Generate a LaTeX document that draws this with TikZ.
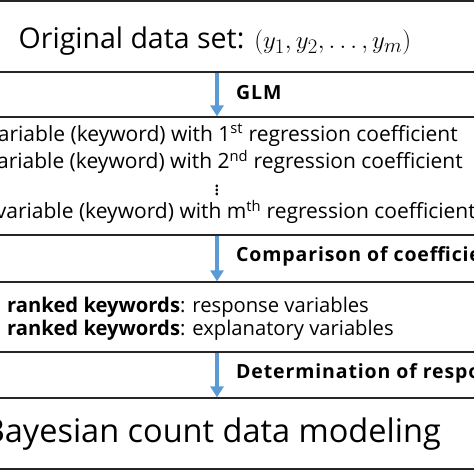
\documentclass[tikz,border=0pt]{standalone}
\usepackage{fontspec}
\setmainfont{Open Sans}
\usetikzlibrary{arrows.meta}

\definecolor{flowblue}{HTML}{5B9BD5}
\definecolor{frameline}{HTML}{262626}

\begin{document}
\begin{tikzpicture}[x=1pt, y=1pt,
  box/.style={draw=frameline, line width=1.3pt, minimum width=600pt, inner sep=0pt},
  flow/.style={flowblue, line width=4pt, -{Triangle[width=13pt, length=11pt]}},
  steplabel/.style={anchor=west, inner sep=0pt,
    font=\bfseries\fontsize{19.5}{23}\selectfont\addfontfeature{LetterSpace=4.5}},
  textline/.style={inner sep=0pt, font=\fontsize{21}{25}\selectfont},
  rankline/.style={inner sep=0pt, anchor=west, font=\fontsize{20.2}{24}\selectfont}]

\useasboundingbox (0,0) rectangle (474,-474);
\clip (0,0) rectangle (474,-474);

% the four stages
\node[box, minimum height=71pt] (data) at (217,-36.5) {};
\node[box, minimum height=118pt] (coefs) at (217,-176) {};
\node[box, minimum height=70pt] (ranks) at (217,-317) {};
\node[box, minimum height=71pt] (model) at (217,-433.5) {};
\draw[frameline, line width=3pt] (data.north west) -- (data.north east);

% arrows between stages
\draw[flow] (data.south) -- (coefs.north);
\draw[flow] (coefs.south) -- (ranks.north);
\draw[flow] (ranks.south) -- (model.north);

\node[steplabel] (glm) at (236,-93) {GLM};
\node[steplabel] (compare) at (236,-256) {Comparison of coefficie};
\node[steplabel] (decide) at (236,-373) {Determination of respo};

% stage texts
\node[inner sep=0pt, font=\fontsize{28.5}{32}\selectfont] (datatext) at (215,-41)
  {Original data set: $(y_1, y_2, \dots, y_m)$};

\node[textline, anchor=east] (first) at (458,-135)
  {ariable (keyword) with 1\textsuperscript{st} regression coefficient};
\node[textline, anchor=east] (second) at (463,-162)
  {ariable (keyword) with 2\textsuperscript{nd} regression coefficient};
\node[textline] (dots) at (217,-187) {$\vdots$};
\node[textline, anchor=east] (last) at (476,-212)
  {variable (keyword) with m\textsuperscript{th} regression coefficient};

\node[rankline] (resp) at (7,-307)
  {\textbf{ranked keywords}: response variables};
\node[rankline] (expl) at (7,-330)
  {\textbf{ranked keywords}: explanatory variables};

\node[inner sep=0pt, anchor=east, font=\fontsize{32.5}{38}\selectfont] (modeltext) at (441,-434)
  {Bayesian count data modeling};
\end{tikzpicture}
\end{document}
